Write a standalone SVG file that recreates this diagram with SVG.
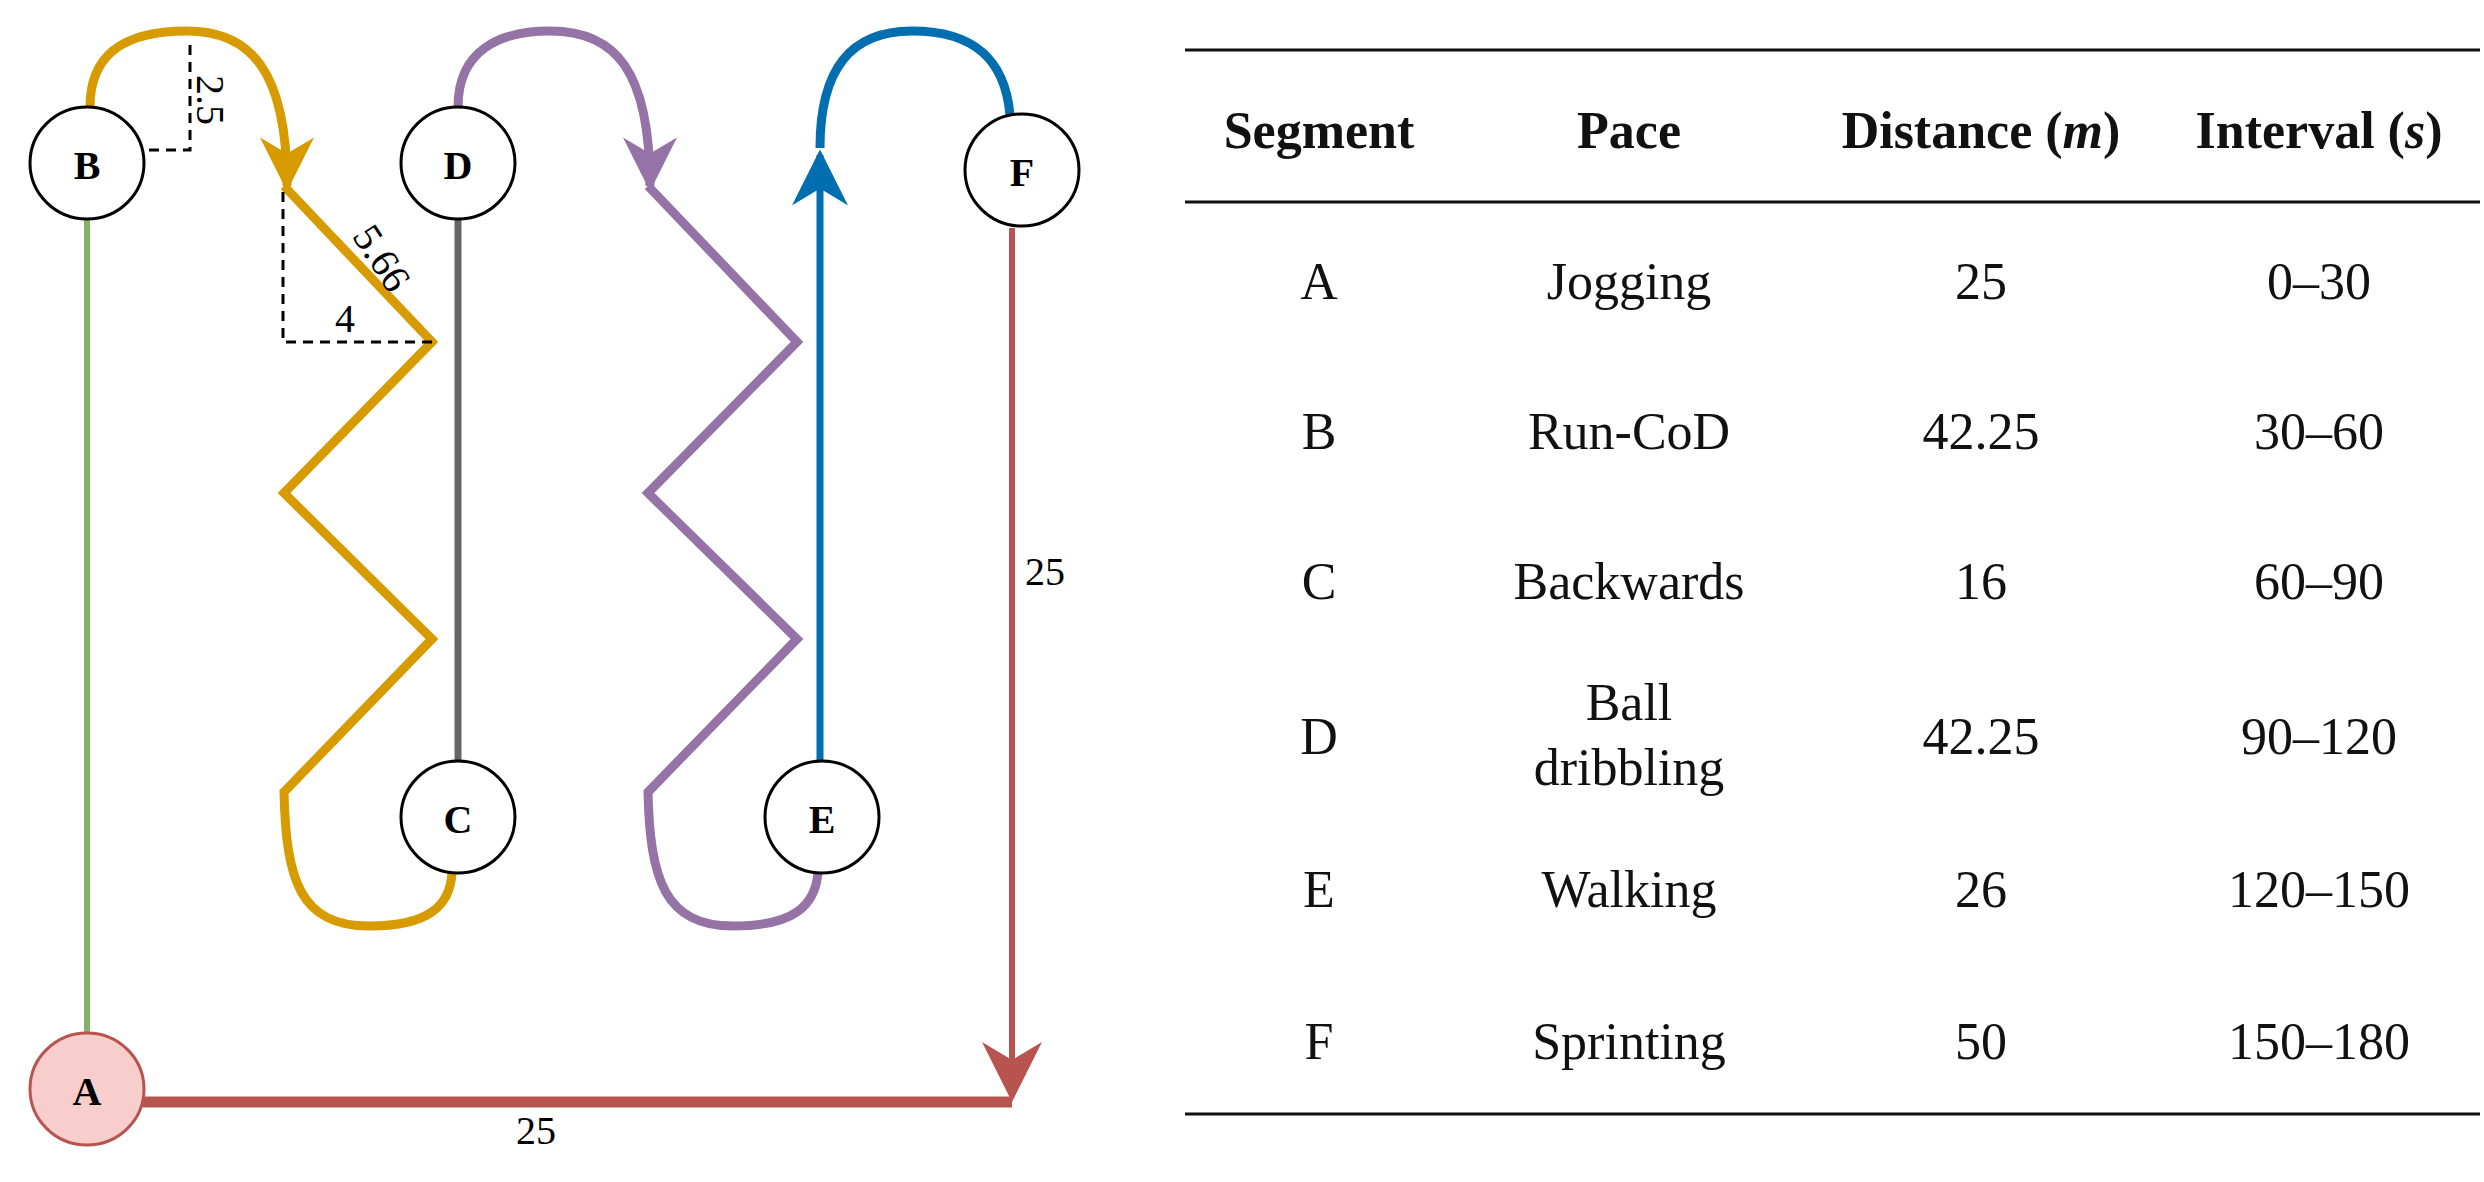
<svg xmlns="http://www.w3.org/2000/svg" width="2484" height="1182" viewBox="0 0 2484 1182">
<style>
.node{stroke:#000;stroke-width:3;fill:#fff}
.nl{font-family:"Liberation Serif",serif;font-weight:bold;font-size:40px;text-anchor:middle;dominant-baseline:central}
.t{font-family:"Liberation Serif",serif;font-size:52px;text-anchor:middle;dominant-baseline:central;fill:#111}
.h{font-weight:bold}
.lbl{font-family:"Liberation Serif",serif;font-size:40px;text-anchor:middle;dominant-baseline:central}
.dash{fill:none;stroke:#000;stroke-width:3;stroke-dasharray:10 7}
.rule{stroke:#111;stroke-width:3}
</style>
<defs>
<marker id="mo" viewBox="0 0 20 20" refX="18" refY="10" markerWidth="6" markerHeight="6" markerUnits="strokeWidth" orient="auto"><path d="M0,0 L20,10 L0,20 L6,10 Z" fill="#d79b00"/></marker>
<marker id="mp" viewBox="0 0 20 20" refX="18" refY="10" markerWidth="6" markerHeight="6" markerUnits="strokeWidth" orient="auto"><path d="M0,0 L20,10 L0,20 L6,10 Z" fill="#9673a6"/></marker>
<marker id="mb" viewBox="0 0 20 20" refX="18" refY="10" markerWidth="8" markerHeight="8" markerUnits="strokeWidth" orient="auto"><path d="M0,0 L20,10 L0,20 L6,10 Z" fill="#006eaf"/></marker>
<marker id="mr" viewBox="0 0 20 20" refX="18" refY="10" markerWidth="10" markerHeight="10" markerUnits="strokeWidth" orient="auto"><path d="M0,0 L20,10 L0,20 L6,10 Z" fill="#b85450"/></marker>
</defs>
<rect width="2484" height="1182" fill="#fff"/>
<g id="connectors" fill="none" stroke-linejoin="miter">
<line x1="87" y1="219" x2="87" y2="1033" stroke="#82b366" stroke-width="6"/>
<path d="M90,107 C90,50 130,31 187,31 C250,31 287,70 287,186" stroke="#d79b00" stroke-width="9" marker-end="url(#mo)"/>
<path d="M284,186 L432,342 L284,493 L432,639 L284,792 C286,880 300,926 369,926 C430,926 450,905 452,873" stroke="#d79b00" stroke-width="9"/>
<line x1="458" y1="219" x2="458" y2="761" stroke="#666" stroke-width="7"/>
<path d="M458,107 C458,50 500,31 550,31 C615,31 650,70 650,186" stroke="#9673a6" stroke-width="9" marker-end="url(#mp)"/>
<path d="M648,186 L797,342 L648,493 L797,639 L648,792 C650,880 665,926 733,926 C795,926 815,905 818,873" stroke="#9673a6" stroke-width="9"/>
<line x1="820" y1="761" x2="820" y2="155" stroke="#006eaf" stroke-width="7" marker-end="url(#mb)"/>
<path d="M820,148 C820,70 850,31 912,31 C975,31 1005,60 1010,115" stroke="#006eaf" stroke-width="9"/>
<line x1="1012" y1="228" x2="1012" y2="1096" stroke="#b85450" stroke-width="6" marker-end="url(#mr)"/>
<line x1="143" y1="1102" x2="1012" y2="1102" stroke="#b85450" stroke-width="11"/>
<path class="dash" d="M190,45 L190,150 L143,150"/>
<path class="dash" d="M283,192 L283,342 L432,342"/>
</g>
<g id="labels" font-family="Liberation Serif, serif">
<text class="lbl" transform="translate(210,100) rotate(90)">2.5</text>
<text class="lbl" x="345" y="318">4</text>
<text class="lbl" transform="translate(382,258) rotate(57)">5.66</text>
<text class="lbl" x="1045" y="571">25</text>
<text class="lbl" x="536" y="1130">25</text>
</g>
<g id="nodeA"><ellipse class="node" cx="87" cy="1089" rx="57" ry="56" style="fill:#f8cecc;stroke:#b85450"/><text class="nl" x="87" y="1091">A</text></g>
<g id="nodeB"><ellipse class="node" cx="87" cy="163" rx="57" ry="56"/><text class="nl" x="87" y="165">B</text></g>
<g id="nodeC"><ellipse class="node" cx="458" cy="817" rx="57" ry="56"/><text class="nl" x="458" y="819">C</text></g>
<g id="nodeD"><ellipse class="node" cx="458" cy="163" rx="57" ry="56"/><text class="nl" x="458" y="165">D</text></g>
<g id="nodeE"><ellipse class="node" cx="822" cy="817" rx="57" ry="56"/><text class="nl" x="822" y="819">E</text></g>
<g id="nodeF"><ellipse class="node" cx="1022" cy="170" rx="57" ry="56"/><text class="nl" x="1022" y="172">F</text></g>
<g id="table">
<line class="rule" x1="1185" y1="50" x2="2480" y2="50"/>
<line class="rule" x1="1185" y1="202" x2="2480" y2="202"/>
<line class="rule" x1="1185" y1="1114" x2="2480" y2="1114"/>
<text class="t h" x="1319" y="130">Segment</text>
<text class="t h" x="1629" y="130">Pace</text>
<text class="t h" x="1981" y="130">Distance (<tspan font-style="italic">m</tspan>)</text>
<text class="t h" x="2319" y="130">Interval (<tspan font-style="italic">s</tspan>)</text>
<text class="t" x="1319" y="281">A</text><text class="t" x="1629" y="281">Jogging</text><text class="t" x="1981" y="281">25</text><text class="t" x="2319" y="281">0–30</text>
<text class="t" x="1319" y="431">B</text><text class="t" x="1629" y="431">Run-CoD</text><text class="t" x="1981" y="431">42.25</text><text class="t" x="2319" y="431">30–60</text>
<text class="t" x="1319" y="581">C</text><text class="t" x="1629" y="581">Backwards</text><text class="t" x="1981" y="581">16</text><text class="t" x="2319" y="581">60–90</text>
<text class="t" x="1319" y="736">D</text><text class="t" x="1629" y="702">Ball</text><text class="t" x="1629" y="767">dribbling</text><text class="t" x="1981" y="736">42.25</text><text class="t" x="2319" y="736">90–120</text>
<text class="t" x="1319" y="889">E</text><text class="t" x="1629" y="889">Walking</text><text class="t" x="1981" y="889">26</text><text class="t" x="2319" y="889">120–150</text>
<text class="t" x="1319" y="1041">F</text><text class="t" x="1629" y="1041">Sprinting</text><text class="t" x="1981" y="1041">50</text><text class="t" x="2319" y="1041">150–180</text>
</g>
</svg>
